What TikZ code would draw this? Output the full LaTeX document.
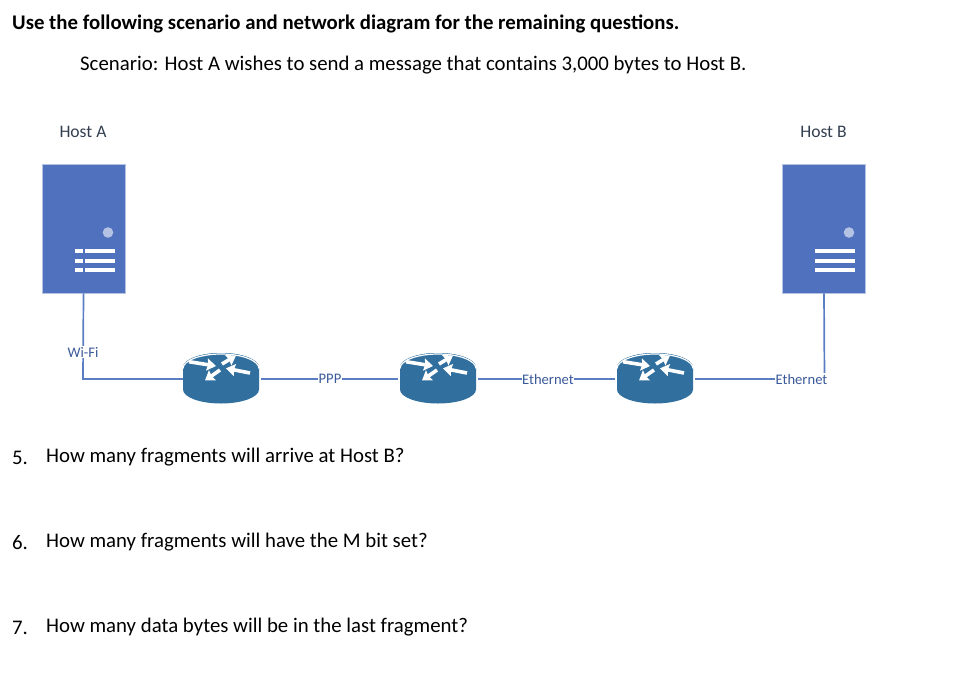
\documentclass[tikz,border=0pt]{standalone}
\usepackage{fontspec}
\setmainfont{Carlito}
\usetikzlibrary{arrows.meta}
\definecolor{srv}{HTML}{4F71BE}
\definecolor{srvedge}{HTML}{B4C3E3}
\definecolor{rtr}{HTML}{31709E}
\definecolor{lnk}{HTML}{5B7DC4}
\definecolor{lbl}{HTML}{3B5A9A}
\definecolor{lbltop}{HTML}{333F50}
\tikzset{
  x=1pt,y=-1pt,
  server/.style={draw=srvedge,line width=0.8pt,fill=srv,minimum width=83pt,minimum height=129pt,inner sep=0pt},
  routerbox/.style={minimum width=76pt,minimum height=51pt,inner sep=0pt},
  link/.style={draw=lnk,line width=1.7pt},
  linklabel/.style={fill=white,text=lbl,inner sep=0.5pt,font=\fontsize{14.6}{16}\selectfont},
  hostlabel/.style={text=lbltop,inner sep=0pt,font=\fontsize{17.6}{20}\selectfont},
  body/.style={anchor=west,inner sep=0pt,text=black,font=\fontsize{20.8}{24}\selectfont},
  rarrow/.style={draw=white,line width=3.6pt,-{Stealth[length=9pt,width=12pt,inset=1pt]}},
}
\newcommand{\routerglyph}[1]{%
  \begin{scope}[shift={(#1)}]
    \fill[rtr] (-38,-11) arc[x radius=38,y radius=14.5,start angle=180,end angle=360]
      -- (38,11) arc[x radius=38,y radius=14,start angle=0,end angle=180] -- cycle;
    \fill[rtr] (0,-11) ellipse[x radius=38,y radius=14.5];
    \draw[white,line width=1.2pt] (-38,-10) arc[x radius=38,y radius=14.5,start angle=180,end angle=360];
    \draw[rarrow] (-32,-16.8) -- (-5,-12.5);
    \draw[rarrow] (1,-14.5) -- (15,-23);
    \draw[rarrow] (29,-5.5) -- (5,-10.2);
    \draw[rarrow] (-1,-8.5) -- (-16,2);
  \end{scope}}
\newcommand{\bars}[2]{%
  \foreach \yy/\w in {251/4.2,261/3.2,270/3.2}{
    \draw[white,line width=\w pt] (#1,\yy) -- (#2,\yy);}}
\begin{document}
\begin{tikzpicture}
\useasboundingbox (0,0) rectangle (958,688);
\fill[white] (0,0) rectangle (958,688);

\node[body,font=\fontsize{20.8}{24}\selectfont\bfseries] (title) at (12,24) {Use the following scenario and network diagram for the remaining questions.};
\node[body] (scenario) at (80,65) {Scenario: Host A wishes to send a message that contains 3,000 bytes to Host B.};
\node[hostlabel] (labA) at (83,131.5) {Host A};
\node[hostlabel] (labB) at (823.5,131.5) {Host B};

\node[server] (hostA) at (83.5,228.5) {};
\node[server] (hostB) at (824,228.5) {};
\fill[srvedge] (108,232.5) circle[radius=5.3];
\fill[srvedge] (849,232.5) circle[radius=5.3];
\bars{74.5}{83}
\bars{85}{115}
\bars{815}{855}

\node[routerbox] (r1) at (221,379) {};
\node[routerbox] (r2) at (438,379) {};
\node[routerbox] (r3) at (655,379) {};

\draw[link] (hostA.south) -- (83,379) -- (r1.west);
\node[linklabel] (wifi) at (83,352) {Wi-Fi};
\draw[link] ([xshift=2pt]r1.east) -- ([xshift=-2pt]r2.west);
\node[linklabel] (ppp) at (330,379) {PPP};
\draw[link] ([xshift=2pt]r2.east) -- ([xshift=-2pt]r3.west);
\node[linklabel] (eth1) at (548,379) {Ethernet};
\draw[link] ([xshift=2pt]r3.east) -- (824.5,379) -- (hostB.south);
\node[linklabel] (eth2) at (801.5,379) {Ethernet};

\routerglyph{221,378.5}
\routerglyph{438,378.5}
\routerglyph{655,378.5}

\node[body] (q5n) at (12,457.5) {5.};
\node[body] (q5) at (46,457.5) {How many fragments will arrive at Host B?};
\node[body] (q6n) at (12,542.5) {6.};
\node[body] (q6) at (46,542.5) {How many fragments will have the M bit set?};
\node[body] (q7n) at (12,627.5) {7.};
\node[body] (q7) at (46,627.5) {How many data bytes will be in the last fragment?};
\end{tikzpicture}
\end{document}
